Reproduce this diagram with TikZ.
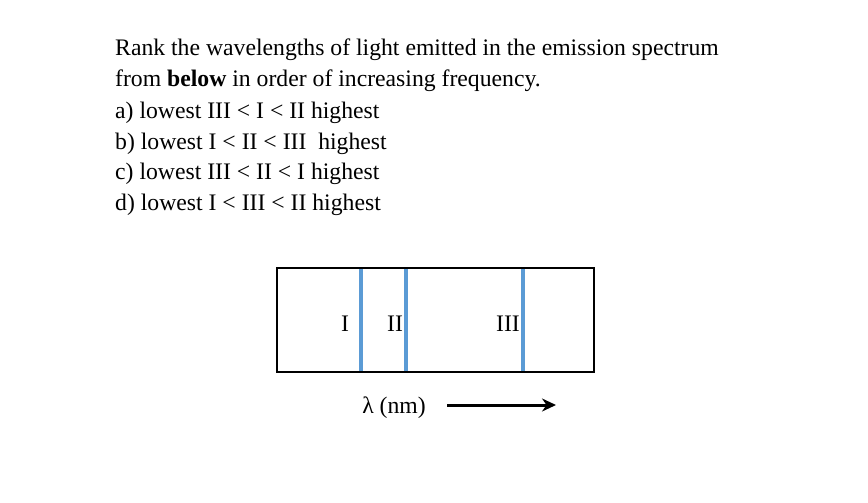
\documentclass[tikz,border=0pt]{standalone}
\usetikzlibrary{arrows.meta}
\usepackage{fontspec}
\setmainfont{Liberation Serif}
\begin{document}
\begin{tikzpicture}[x=1pt,y=-1pt,
  txt/.style={anchor=base west,inner sep=0pt,font=\fontsize{23.7}{28}\selectfont},
  lbl/.style={anchor=base,inner sep=0pt,font=\fontsize{23.7}{28}\selectfont},
  line/.style={draw={rgb,255:red,91;green,155;blue,213},line width=3.5pt}]
\useasboundingbox (0,0) rectangle (868,503);
\node[txt] (t1) at (115,56) {Rank the wavelengths of light emitted in the emission spectrum};
\node[txt] (t2) at (115,87) {from \textbf{below} in order of increasing frequency.};
\node[txt] (t3) at (115,118) {a) lowest III < I < II highest};
\node[txt] (t4) at (115,149) {b) lowest I < II < III\ \ highest};
\node[txt] (t5) at (115,179) {c) lowest III < II < I highest};
\node[txt] (t6) at (115,210) {d) lowest I < III < II highest};
\draw[line] (361,267) -- (361,371);
\draw[line] (406,267) -- (406,371);
\draw[line] (523,267) -- (523,371);
\node[draw,line width=2pt,minimum width=317pt,minimum height=104pt,anchor=north west,inner sep=0pt] (box) at (276,267) {};
\node[lbl] (l1) at (345,331) {I};
\node[lbl] (l2) at (395,331) {II};
\node[lbl] (l3) at (508,331) {III};
\node[lbl] (lam) at (394,413) {λ (nm)};
\coordinate (a1) at (447,405);
\coordinate (a2) at (556,405);
\draw[line width=3pt,-{Stealth[length=14pt,width=13pt]}] (a1) -- (a2);
\end{tikzpicture}
\end{document}
